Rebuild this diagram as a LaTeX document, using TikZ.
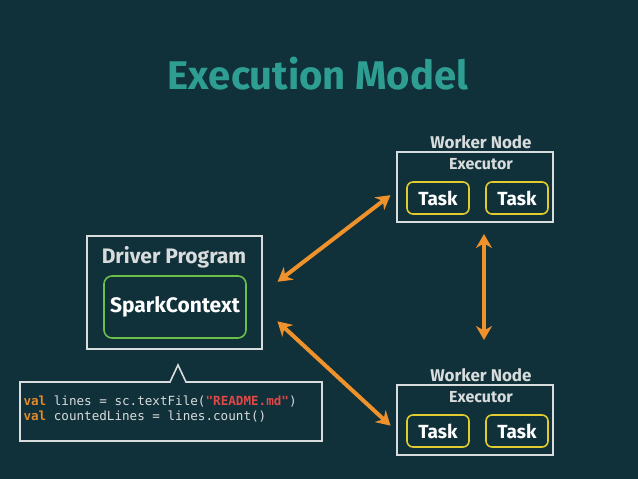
\documentclass[tikz,border=0pt]{standalone}
\usepackage{fontspec}
\setmainfont{Fira Sans}
\setmonofont{DejaVu Sans Mono}
\usetikzlibrary{arrows.meta}
\definecolor{bg}{HTML}{10303A}
\definecolor{chalk}{HTML}{D8DCDC}
\definecolor{titleteal}{HTML}{2E9E92}
\definecolor{sparkgreen}{HTML}{6CC04A}
\definecolor{taskyellow}{HTML}{E2CB2E}
\definecolor{flow}{HTML}{F0922B}
\definecolor{kw}{HTML}{E08A2A}
\definecolor{str}{HTML}{E04848}
\tikzset{
  box/.style={draw=chalk, line width=1.6pt, inner sep=0pt},
  task/.style={draw=taskyellow, line width=1.6pt, rounded corners=6pt, minimum width=62pt, minimum height=32pt, text=white, font=\bfseries\fontsize{19}{19}\selectfont},
  label/.style={text=chalk, font=\bfseries\fontsize{17}{17}\selectfont},
  link/.style={draw=flow, line width=4pt, {Stealth[length=14pt,width=16pt]}-{Stealth[length=14pt,width=16pt]}, shorten <=2pt, shorten >=2pt}
}
\begin{document}
\begin{tikzpicture}[x=1pt,y=-1pt]
\fill[bg] (0,0) rectangle (638,479);
\useasboundingbox (0,0) rectangle (638,479);

\node[text=titleteal, font=\bfseries\fontsize{40}{40}\selectfont] (title) at (318,74) {Execution Model};

% driver side
\draw[box] (87,236) rectangle (262,349);
\node[label, font=\bfseries\fontsize{21}{21}\selectfont] (drv) at (174,257) {Driver Program};
\node[draw=sparkgreen, line width=1.6pt, rounded corners=8pt, minimum width=142pt, minimum height=62pt, text=white, font=\bfseries\fontsize{21}{21}\selectfont] (sc) at (175,307) {SparkContext};

\draw[box] (20,382) -- (170,382) -- (178,365) -- (186,382) -- (322,382) -- (322,441) -- (20,441) -- cycle;
\node[anchor=west, align=left, text=chalk, font=\ttfamily\fontsize{12.6}{15}\selectfont] (code) at (20,409)
  {\textcolor{kw}{\bfseries val} lines = sc.textFile(\textcolor{str}{\bfseries"README.md"})\\
   \textcolor{kw}{\bfseries val} countedLines = lines.count()};

% workers
\foreach \n/\y in {top/0,bot/233}{
  \node[label] (wn\n) at (481,142+\y) {Worker Node};
  \draw[box] (397,152+\y) rectangle (553,222+\y);
  \node[label, font=\bfseries\fontsize{16}{16}\selectfont] (ex\n) at (481,164+\y) {Executor};
  \node[task] (ta\n) at (438,198+\y) {Task};
  \node[task] (tb\n) at (517,198+\y) {Task};
  \coordinate (in\n) at (392,194+\y);
}

\coordinate (scA) at (276,283);
\coordinate (scB) at (276,320);
\coordinate (vt) at (484,232);
\coordinate (vb) at (484,342);
\draw[link] (scA) -- (intop);
\draw[link] (scB) -- (inbot);
\draw[link] (vt) -- (vb);
\end{tikzpicture}
\end{document}
